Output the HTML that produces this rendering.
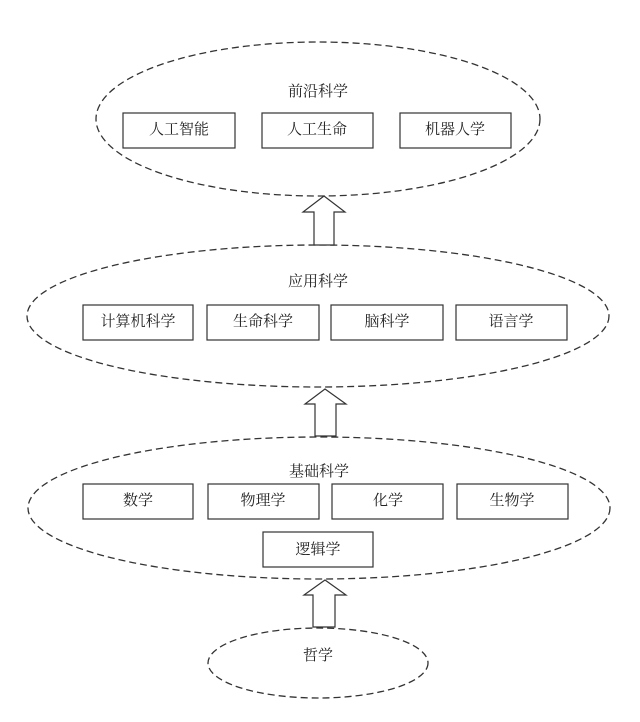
<!DOCTYPE html>
<html><head><meta charset="utf-8"><style>
html,body{margin:0;padding:0;background:#fff;}
svg text{font-family:"Liberation Serif","Noto Serif CJK SC",serif;font-size:15px;fill:#222;text-anchor:middle;dominant-baseline:central;}
</style></head><body>
<svg width="640" height="717" viewBox="0 0 640 717" xmlns="http://www.w3.org/2000/svg">
<g fill="none" stroke="#333" stroke-width="1.3" stroke-dasharray="7,4">
<ellipse cx="318" cy="119" rx="222" ry="77"/>
<ellipse cx="318" cy="316" rx="291" ry="71"/>
<ellipse cx="319" cy="508" rx="291" ry="71"/>
<ellipse cx="318" cy="663" rx="110" ry="35"/>
</g>
<g fill="#fff" stroke="#333" stroke-width="1.2">
<polygon points="324,196 345,212 334,212 334,245 314,245 314,212 303,212"/>
<polygon points="325,389 346,404 336,404 336,436 315,436 315,404 305,404"/>
<polygon points="325,580 346,595 335,595 335,627 313,627 313,595 304,595"/>
<rect x="123" y="113" width="112" height="35"/>
<rect x="262" y="113" width="111" height="35"/>
<rect x="400" y="113" width="111" height="35"/>
<rect x="83" y="305" width="110" height="35"/>
<rect x="207" y="305" width="112" height="35"/>
<rect x="331" y="305" width="112" height="35"/>
<rect x="456" y="305" width="111" height="35"/>
<rect x="83" y="484" width="110" height="35"/>
<rect x="208" y="484" width="111" height="35"/>
<rect x="332" y="484" width="111" height="35"/>
<rect x="457" y="484" width="111" height="35"/>
<rect x="263" y="532" width="110" height="35"/>
</g>
<text x="318" y="92">前沿科学</text>
<text x="179" y="130">人工智能</text>
<text x="317" y="130">人工生命</text>
<text x="455" y="130">机器人学</text>
<text x="318" y="282">应用科学</text>
<text x="138" y="322">计算机科学</text>
<text x="263" y="322">生命科学</text>
<text x="387" y="322">脑科学</text>
<text x="511" y="322">语言学</text>
<text x="319" y="472">基础科学</text>
<text x="138" y="501">数学</text>
<text x="263" y="501">物理学</text>
<text x="388" y="501">化学</text>
<text x="512" y="501">生物学</text>
<text x="318" y="550">逻辑学</text>
<text x="318" y="656">哲学</text>
</svg>
</body></html>
